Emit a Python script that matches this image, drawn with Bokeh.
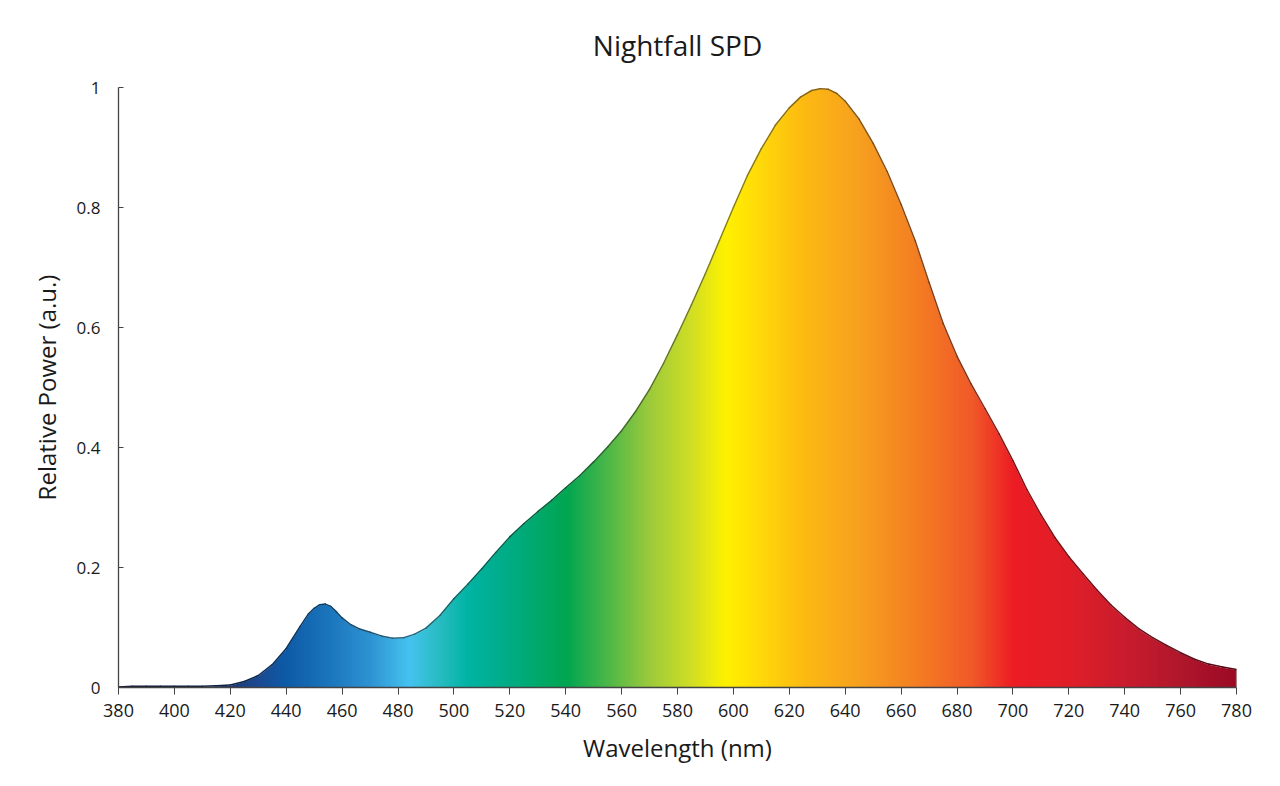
import numpy as np
from bokeh.plotting import figure
from bokeh.models import Range1d, FixedTicker
from bokeh.embed import file_html
from bokeh.resources import INLINE

# ---- data ----
wavelength = [380, 385, 390, 395, 400, 405, 410, 415,
              420, 425, 430, 435, 440, 445, 448, 450, 452, 454, 456, 458,
              460, 463, 466, 470, 474, 478, 482, 486, 490, 495,
              500, 505, 510, 515, 520, 525, 530, 535,
              540, 545, 550, 555, 560, 565, 570, 575,
              580, 585, 590, 595, 600, 605, 610, 615,
              620, 624, 628, 631, 634, 637, 640, 645, 650, 655,
              660, 665, 670, 675, 680, 685, 690, 695,
              700, 705, 710, 715, 720, 725, 730, 735,
              740, 745, 750, 755, 760, 765, 770, 775, 780]
power = [0.001, 0.002, 0.002, 0.002, 0.002, 0.002, 0.002, 0.003,
         0.004, 0.010, 0.020, 0.038, 0.065, 0.102, 0.123, 0.132, 0.138, 0.139, 0.135, 0.126,
         0.116, 0.105, 0.098, 0.092, 0.086, 0.082, 0.083, 0.089, 0.099, 0.120,
         0.148, 0.172, 0.198, 0.225, 0.251, 0.273, 0.293, 0.312,
         0.333, 0.353, 0.376, 0.401, 0.428, 0.460, 0.497, 0.540,
         0.588, 0.638, 0.690, 0.745, 0.800, 0.853, 0.898, 0.937,
         0.966, 0.984, 0.995, 0.998, 0.997, 0.990, 0.977, 0.947, 0.907, 0.860,
         0.805, 0.745, 0.675, 0.607, 0.552, 0.506, 0.465, 0.423,
         0.378, 0.330, 0.288, 0.250, 0.218, 0.190, 0.163, 0.138,
         0.117, 0.098, 0.083, 0.070, 0.058, 0.047, 0.039, 0.034, 0.030]

# spectral colour stops (nm, colour)
stop_nm = [380, 420, 430, 440, 455, 470, 484, 495, 505, 520, 540, 555, 570,
           585, 597, 610, 625, 645, 665, 685, 700, 720, 740, 760, 780]
stop_colors = ["#1b2a5e", "#1d3a78", "#1c4a92", "#0d5ba8", "#1b75bc", "#2e93d3",
               "#45c3ef", "#27bcc0", "#00b4a4", "#00ac84", "#00a651", "#4db848",
               "#9dcb3b", "#d2df25", "#fff200", "#ffd80a", "#fdba12", "#f7a01f",
               "#f47f22", "#f15a29", "#ed1c24", "#e01f28", "#c91c2e", "#b0172c",
               "#9b0a24"]

x_ticks = list(range(380, 781, 20))
y_ticks = [0, 0.2, 0.4, 0.6, 0.8, 1]
y_tick_labels = ["0", "0.2", "0.4", "0.6", "0.8", "1"]

title_text = "Nightfall SPD"
x_label = "Wavelength (nm)"
y_label = "Relative Power (a.u.)"

FONT = "Open Sans"
X_MIN, X_MAX = 380, 780
Y_TOP = 1.0

# ---- colour helpers ----
def hex_to_rgb(h):
    h = h.lstrip("#")
    return [int(h[i:i + 2], 16) for i in (0, 2, 4)]

stop_rgb = np.array([hex_to_rgb(c) for c in stop_colors], dtype=float)

def color_at(nm):
    nm = np.asarray(nm, dtype=float)
    return np.stack([np.interp(nm, stop_nm, stop_rgb[:, k]) for k in range(3)], axis=-1)

# gradient image (1 row). It stops just short of the right frame edge and just
# above the curve's maximum so no image edge coincides with a clipped mask edge.
pad_x = 6
img_x0 = X_MIN - pad_x
img_x1 = wavelength[-1] - 0.3
img_dw = img_x1 - img_x0
img_y0 = -0.05 * Y_TOP
img_y1 = max(power) + 0.001
ncol = 1300
cols_nm = img_x0 + (np.arange(ncol) + 0.5) * img_dw / ncol
rgb = color_at(cols_nm).astype(np.uint32)
img = np.empty((1, ncol), dtype=np.uint32)
view = img.view(dtype=np.uint8).reshape((1, ncol, 4))
view[0, :, 0] = rgb[:, 0]
view[0, :, 1] = rgb[:, 1]
view[0, :, 2] = rgb[:, 2]
view[0, :, 3] = 255

p = figure(width=1280, height=786, output_backend="svg", toolbar_location=None,
           x_range=Range1d(X_MIN, X_MAX), y_range=Range1d(0, Y_TOP),
           min_border_left=118, min_border_right=44,
           min_border_top=87, min_border_bottom=99)
p.background_fill_color = "white"
p.border_fill_color = "white"
p.outline_line_color = None
p.xgrid.visible = False
p.ygrid.visible = False

# gradient fill
p.image_rgba(image=[img], x=img_x0, y=img_y0, dw=img_dw, dh=img_y1 - img_y0)
# white mask above the curve (polygon: curve, then back along the top)
mask_x = [X_MIN - pad_x] + wavelength + [X_MAX + pad_x, X_MAX + pad_x, X_MIN - pad_x]
mask_y = [power[0]] + power + [power[-1], 1.1 * Y_TOP, 1.1 * Y_TOP]
p.patch(x=mask_x, y=mask_y, fill_color="white", line_color="white", line_width=1.2)

# outline (darkened spectral colour)
xs0 = wavelength[:-1]
xs1 = wavelength[1:]
ys0 = power[:-1]
ys1 = power[1:]
mid = (np.array(xs0) + np.array(xs1)) / 2.0
dark = (color_at(mid) * 0.55).astype(int)
dark_hex = ["#%02x%02x%02x" % tuple(c) for c in dark]
p.segment(x0=xs0, y0=ys0, x1=xs1, y1=ys1, line_color=dark_hex, line_width=1.5,
          line_cap="round")
# right edge at the last wavelength
p.segment(x0=[wavelength[-1]], y0=[0], x1=[wavelength[-1]], y1=[power[-1]],
          line_color=dark_hex[-1], line_width=2.2)

# axes
p.xaxis.ticker = FixedTicker(ticks=x_ticks)
p.yaxis.ticker = FixedTicker(ticks=y_ticks)
p.yaxis.major_label_overrides = {t: l for t, l in zip(y_ticks, y_tick_labels)}
for ax in (p.xaxis[0], p.yaxis[0]):
    ax.axis_line_color = "#444444"
    ax.axis_line_width = 1.3
    ax.major_tick_line_color = "#444444"
    ax.minor_tick_line_color = None
    ax.major_label_text_font = FONT
    ax.major_label_text_color = "#1a1a1a"
    ax.axis_label_text_font = FONT
    ax.axis_label_text_font_size = "24px"
    ax.axis_label_text_font_style = "normal"
    ax.axis_label_text_color = "#1a1a1a"

p.xaxis.major_label_text_font_size = "18px"
p.yaxis.major_label_text_font_size = "17px"

p.xaxis.major_tick_out = 7
p.xaxis.major_tick_in = 0
p.xaxis.major_label_standoff = 9
p.xaxis.axis_label = x_label
p.xaxis.axis_label_standoff = 11

p.yaxis.major_tick_out = 0
p.yaxis.major_tick_in = 5
p.yaxis.major_label_standoff = 18
p.yaxis.axis_label = y_label
p.yaxis.axis_label_standoff = 11

p.title.text = title_text
p.title.align = "center"
p.title.vertical_align = "top"
p.title.text_font = FONT
p.title.text_font_size = "28px"
p.title.text_font_style = "normal"
p.title.text_color = "#1a1a1a"
p.title.standoff = 44

open("out.html", "w").write(file_html(p, INLINE))
